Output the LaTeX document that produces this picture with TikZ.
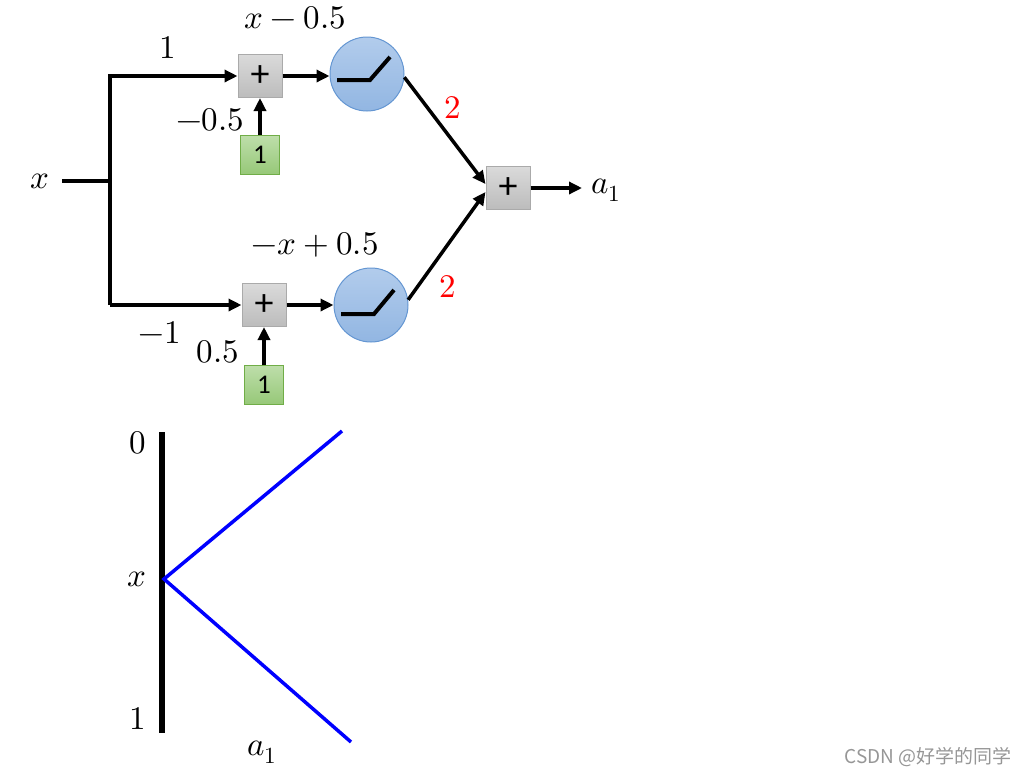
\documentclass[tikz,border=0pt]{standalone}
\usepackage{fontspec}
\usepackage{unicode-math}
\setmathfont{Latin Modern Math}
\newfontfamily\cjkfont{Noto Sans CJK SC}
\newfontfamily\boxfont{Carlito}
\usetikzlibrary{arrows.meta}
\definecolor{sumTop}{RGB}{218,218,218}
\definecolor{sumBot}{RGB}{188,188,188}
\definecolor{sumEdge}{RGB}{170,170,170}
\definecolor{oneTop}{RGB}{190,222,170}
\definecolor{oneBot}{RGB}{150,200,120}
\definecolor{oneEdge}{RGB}{112,173,71}
\definecolor{reluTop}{RGB}{178,204,236}
\definecolor{reluBot}{RGB}{146,182,226}
\definecolor{reluEdge}{RGB}{100,150,210}
\definecolor{wmark}{RGB}{150,150,150}
\tikzset{
  lbl/.style={font=\fontsize{33}{40}\selectfont, inner sep=0pt},
  sumbox/.style={draw=sumEdge, line width=1pt, top color=sumTop, bottom color=sumBot,
    minimum width=44pt, minimum height=43pt, inner sep=0pt,
    font=\boxfont\fontsize{38}{40}\selectfont},
  onebox/.style={draw=oneEdge, line width=1pt, top color=oneTop, bottom color=oneBot,
    minimum width=39pt, minimum height=39pt, inner sep=0pt,
    font=\boxfont\fontsize{27}{30}\selectfont},
  relu/.style={circle, draw=reluEdge, line width=1pt, top color=reluTop, bottom color=reluBot,
    minimum size=74pt, inner sep=0pt},
  wire/.style={line width=3.5pt},
  arr/.style={line width=3.5pt, -{Triangle[length=13pt,width=12pt]}},
  ramp/.style={line width=4pt},
}
\begin{document}
\begin{tikzpicture}[x=1pt,y=-1pt]
\useasboundingbox (0,0) rectangle (1035,777);
% input
\node[lbl] (xin) at (40,181) {$x$};
\coordinate (xs) at (62,181);
\coordinate (j) at (110,181);
\coordinate (jb) at (110,305);
% top branch
\node[sumbox] (p1) at (260,76) {+};
\node[onebox] (g1) at (260,155) {1};
\node[relu] (c1) at (367,74) {};
\node[lbl] (w1) at (168,48) {$1$};
\node[lbl] (b1) at (210,120) {$-0.5$};
\node[lbl] (t1) at (295,18) {$x-0.5$};
% bottom branch
\node[sumbox] (p2) at (264,305) {+};
\node[onebox] (g2) at (264,385) {1};
\node[relu] (c2) at (371,305) {};
\node[lbl] (w2) at (160,333) {$-1$};
\node[lbl] (b2) at (218,352) {$0.5$};
\node[lbl] (t2) at (315,245) {$-x+0.5$};
% output
\node[sumbox] (o) at (508,188) {+};
\node[lbl] (a1) at (606,190) {$a_1$};
\coordinate (oe) at (582,188);
\node[lbl, text=red] (r1) at (453,108) {$2$};
\node[lbl, text=red] (r2) at (448,287) {$2$};
% wires
\draw[wire] (xs) -- (j);
\draw[arr, line join=miter] (jb) |- (p1.west);
\draw[arr, line join=miter] (jb) -- (p2.west);
\draw[arr] (g1.north) -- (p1.south);
\draw[arr] (g2.north) -- (p2.south);
\draw[arr] (p1.east) -- (p1.east -| c1.west);
\draw[arr] (p2.east) -- (p2.east -| c2.west);
\draw[arr] (c1.-5) -- (o.170);
\draw[arr] (c2.8) -- (o.190);
\draw[arr] (o.east) -- (oe);
% ramps
\draw[ramp] ([shift={(-30,6)}]c1.center) -- ([shift={(3,6)}]c1.center) -- ([shift={(23,-17)}]c1.center);
\draw[ramp] ([shift={(-30,9)}]c2.center) -- ([shift={(3,9)}]c2.center) -- ([shift={(23,-15)}]c2.center);
% bottom plot
\coordinate (ax1) at (162,432);
\coordinate (ax2) at (162,733);
\coordinate (vx) at (164,579);
\coordinate (u1) at (342,431);
\coordinate (u2) at (351,742);
\draw[line width=5.5pt] (ax1) -- (ax2);
\draw[blue, line width=3.5pt] (u1) -- (vx) -- (u2);
\node[lbl] (l0) at (138,443) {$0$};
\node[lbl] (lx) at (137,579) {$x$};
\node[lbl] (l1) at (138,718) {$1$};
\node[lbl] (la) at (262,752) {$a_1$};
% watermark
\node[text=wmark, font=\cjkfont\fontsize{19}{22}\selectfont, inner sep=0pt] (wm) at (928,757) {CSDN @好学的同学};
\end{tikzpicture}
\end{document}
